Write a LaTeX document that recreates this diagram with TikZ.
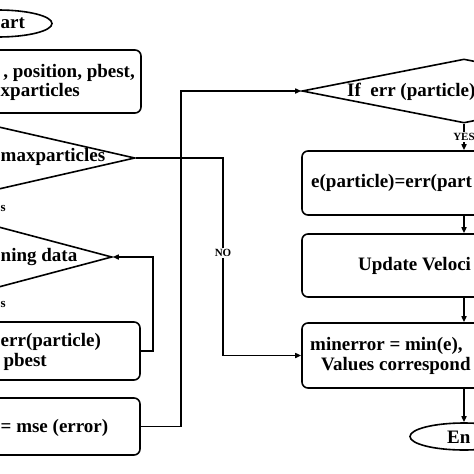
\documentclass[tikz,border=0pt]{standalone}
\usepackage{fontspec}
\setmainfont{Liberation Serif}
\usetikzlibrary{shapes.geometric,arrows.meta}

\tikzset{
  box/.style={draw,line width=1.6pt,rounded corners=6pt,inner sep=0pt},
  decision/.style={draw,diamond,line width=1.6pt,inner sep=0pt},
  term/.style={draw,ellipse,line width=1.6pt,inner sep=0pt,minimum width=108pt,minimum height=27pt},
  txt/.style={inner sep=0pt,font=\fontsize{19}{22}\selectfont\bfseries},
  lbl/.style={inner sep=1pt,fill=white,font=\fontsize{11}{13}\selectfont\bfseries},
  conn/.style={line width=1.6pt,-{Triangle[length=6pt,width=5pt]}}
}

\begin{document}
\begin{tikzpicture}[x=1pt,y=-1pt]

\useasboundingbox (0,0) rectangle (474,474);
\clip (0,0) rectangle (474,474);

% left column
\node[term] (start) at (-2,23.5) {};
\node[box,minimum width=286pt,minimum height=63pt] (init) at (-2,81.5) {};
\node[decision,minimum width=274pt,minimum height=63pt] (dia1) at (-2,158) {};
\node[decision,minimum width=228pt,minimum height=61pt] (dia2) at (-2,257) {};
\node[box,minimum width=284pt,minimum height=58pt] (pb) at (-2,351) {};
\node[box,minimum width=284pt,minimum height=57pt] (mse) at (-2,426.5) {};

% right column
\node[decision,minimum width=324pt,minimum height=64pt] (dia3) at (464,91) {};
\node[box,minimum width=324pt,minimum height=64pt] (eset) at (464,183) {};
\node[box,minimum width=324pt,minimum height=63pt] (upd) at (464,265.5) {};
\node[box,minimum width=324pt,minimum height=65pt] (minerr) at (464,355.5) {};
\node[term] (stop) at (464,436.5) {};

% texts
\node[txt,anchor=west] (tstart) at (0.5,23.5) {art};
\node[txt,anchor=east] (tinit1) at (135,73) {, position, pbest,};
\node[txt,anchor=west] (tinit2) at (0.5,92) {xparticles};
\node[txt,anchor=west] (tdia1) at (0.5,157) {maxparticles};
\node[txt,anchor=west] (tdia2) at (0.5,257) {ning data};
\node[txt,anchor=west] (tpb1) at (0.5,342) {err(particle)};
\node[txt,anchor=east] (tpb2) at (47,362) {pbest};
\node[txt,anchor=west] (tmse) at (0.5,428) {= mse (error)};
\node[txt,anchor=west,font=\fontsize{13}{15}\selectfont\bfseries] (yes1) at (0.5,208) {s};
\node[txt,anchor=west,font=\fontsize{13}{15}\selectfont\bfseries] (yes2) at (0.5,304) {s};

\node[txt,anchor=west] (tdia3) at (347,92) {If\ \ err (particle)};
\node[txt,anchor=west] (teset) at (311,183) {e(particle)=err(part};
\node[txt,anchor=west] (tupd) at (358,266) {Update Veloci};
\node[txt,anchor=west] (tmin1) at (310,346) {minerror = min(e),};
\node[txt,anchor=west] (tmin2) at (321,366) {Values correspond};
\node[txt,anchor=west] (tstop) at (447,437) {En};

% connectors
\draw[conn] (pb.east) -- ++(12,0) |- (dia2.east);
\draw[conn] (mse.east) -- ++(40,0) |- (dia3.west);
\coordinate (nobend) at (223,158);
\draw[conn] (dia1.east) -- (nobend) |- (minerr.west);
\node[lbl] (no) at (223,253) {NO};

\draw[conn] (dia3.south) -- (eset.north);
\node[lbl] (yes3) at (464,137) {YES};
\draw[conn] (eset.south) -- (upd.north);
\draw[conn] (upd.south) -- (minerr.north);
\draw[conn] (minerr.south) -- (stop.north);

\end{tikzpicture}
\end{document}
